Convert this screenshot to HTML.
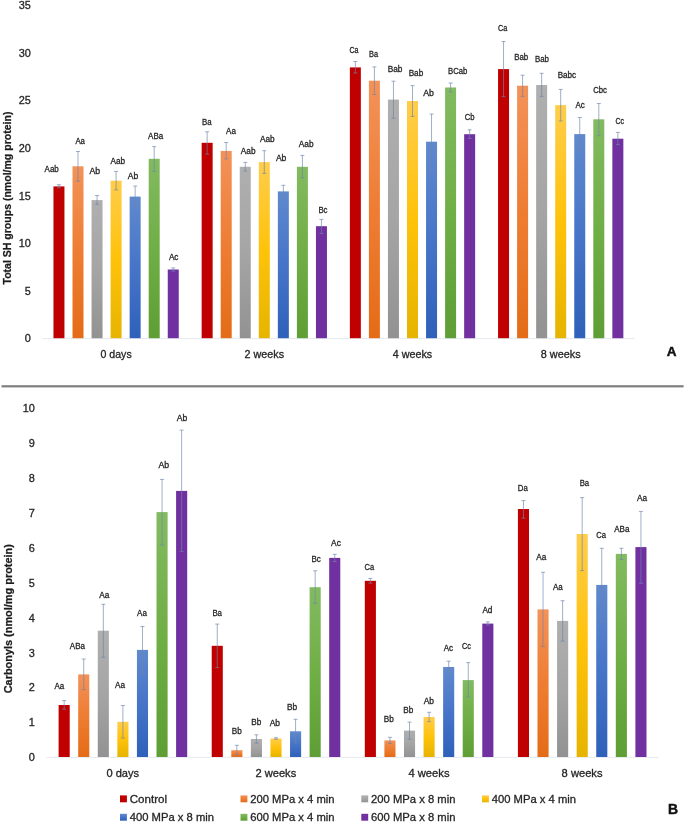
<!DOCTYPE html>
<html lang="en"><head><meta charset="utf-8"><title>Figure</title>
<style>html,body{margin:0;padding:0;background:#fff}svg{display:block}</style></head>
<body>
<svg width="685" height="823" viewBox="0 0 685 823" font-family='"Liberation Sans", sans-serif'>
<defs>
<linearGradient id="gO" x1="0" y1="0" x2="0" y2="1"><stop offset="0" stop-color="#F39259"/><stop offset="0.5" stop-color="#EE7D33"/><stop offset="1" stop-color="#E46C17"/></linearGradient>
<linearGradient id="gG" x1="0" y1="0" x2="0" y2="1"><stop offset="0" stop-color="#AFAFAF"/><stop offset="0.5" stop-color="#A5A5A5"/><stop offset="1" stop-color="#929292"/></linearGradient>
<linearGradient id="gY" x1="0" y1="0" x2="0" y2="1"><stop offset="0" stop-color="#FFCD4B"/><stop offset="0.5" stop-color="#FFC20A"/><stop offset="1" stop-color="#E6B400"/></linearGradient>
<linearGradient id="gB" x1="0" y1="0" x2="0" y2="1"><stop offset="0" stop-color="#6089CE"/><stop offset="0.5" stop-color="#4674C8"/><stop offset="1" stop-color="#2F61BA"/></linearGradient>
<linearGradient id="gN" x1="0" y1="0" x2="0" y2="1"><stop offset="0" stop-color="#82BB60"/><stop offset="0.5" stop-color="#70AE46"/><stop offset="1" stop-color="#5E9E34"/></linearGradient>
</defs>
<rect width="685" height="823" fill="#ffffff"/>
<line x1="42" y1="338.59999999999997" x2="634.8" y2="338.59999999999997" stroke="#DDE2EA" stroke-width="0.75"/>
<rect x="53.45" y="186.40" width="11.0" height="151.80" fill="#C00000"/>
<path d="M58.95 184.70V187.80M56.95 184.70h4M56.95 187.80h4" stroke="#6E86AA" stroke-width="0.85" fill="none" opacity="0.78"/>
<text x="44.60" y="171.70" font-size="8.6" font-weight="normal" fill="#262626" stroke="#262626" stroke-width="0.3" textLength="14.20" lengthAdjust="spacingAndGlyphs">Aab</text>
<rect x="72.50" y="166.30" width="11.0" height="171.90" fill="url(#gO)"/>
<path d="M78.00 151.50V181.20M76.00 151.50h4M76.00 181.20h4" stroke="#6E86AA" stroke-width="0.85" fill="none" opacity="0.78"/>
<text x="75.40" y="143.80" font-size="8.6" font-weight="normal" fill="#262626" stroke="#262626" stroke-width="0.3" textLength="9.60" lengthAdjust="spacingAndGlyphs">Aa</text>
<rect x="91.55" y="200.10" width="11.0" height="138.10" fill="url(#gG)"/>
<path d="M97.05 195.50V204.30M95.05 195.50h4M95.05 204.30h4" stroke="#6E86AA" stroke-width="0.85" fill="none" opacity="0.78"/>
<text x="89.40" y="174.00" font-size="8.6" font-weight="normal" fill="#262626" stroke="#262626" stroke-width="0.3" textLength="10.70" lengthAdjust="spacingAndGlyphs">Ab</text>
<rect x="110.60" y="180.70" width="11.0" height="157.50" fill="url(#gY)"/>
<path d="M116.10 171.40V189.90M114.10 171.40h4M114.10 189.90h4" stroke="#6E86AA" stroke-width="0.85" fill="none" opacity="0.78"/>
<text x="110.50" y="163.70" font-size="8.6" font-weight="normal" fill="#262626" stroke="#262626" stroke-width="0.3" textLength="14.60" lengthAdjust="spacingAndGlyphs">Aab</text>
<rect x="129.65" y="196.60" width="11.0" height="141.60" fill="url(#gB)"/>
<path d="M135.15 186.10V207.60M133.15 186.10h4M133.15 207.60h4" stroke="#6E86AA" stroke-width="0.85" fill="none" opacity="0.78"/>
<text x="127.80" y="179.10" font-size="8.6" font-weight="normal" fill="#262626" stroke="#262626" stroke-width="0.3" textLength="10.40" lengthAdjust="spacingAndGlyphs">Ab</text>
<rect x="148.70" y="158.80" width="11.0" height="179.40" fill="url(#gN)"/>
<path d="M154.20 146.60V171.40M152.20 146.60h4M152.20 171.40h4" stroke="#6E86AA" stroke-width="0.85" fill="none" opacity="0.78"/>
<text x="148.10" y="139.40" font-size="8.6" font-weight="normal" fill="#262626" stroke="#262626" stroke-width="0.3" textLength="15.10" lengthAdjust="spacingAndGlyphs">ABa</text>
<rect x="167.75" y="269.50" width="11.0" height="68.70" fill="#7030A0"/>
<path d="M173.25 267.90V271.20M171.25 267.90h4M171.25 271.20h4" stroke="#6E86AA" stroke-width="0.85" fill="none" opacity="0.78"/>
<text x="168.90" y="260.00" font-size="8.6" font-weight="normal" fill="#262626" stroke="#262626" stroke-width="0.3" textLength="9.50" lengthAdjust="spacingAndGlyphs">Ac</text>
<rect x="201.65" y="142.80" width="11.0" height="195.40" fill="#C00000"/>
<path d="M207.15 131.80V154.20M205.15 131.80h4M205.15 154.20h4" stroke="#6E86AA" stroke-width="0.85" fill="none" opacity="0.78"/>
<text x="202.00" y="124.60" font-size="8.6" font-weight="normal" fill="#262626" stroke="#262626" stroke-width="0.3" textLength="9.60" lengthAdjust="spacingAndGlyphs">Ba</text>
<rect x="220.70" y="150.90" width="11.0" height="187.30" fill="url(#gO)"/>
<path d="M226.20 142.50V158.90M224.20 142.50h4M224.20 158.90h4" stroke="#6E86AA" stroke-width="0.85" fill="none" opacity="0.78"/>
<text x="226.10" y="134.10" font-size="8.6" font-weight="normal" fill="#262626" stroke="#262626" stroke-width="0.3" textLength="9.80" lengthAdjust="spacingAndGlyphs">Aa</text>
<rect x="239.75" y="166.80" width="11.0" height="171.40" fill="url(#gG)"/>
<path d="M245.25 162.40V171.00M243.25 162.40h4M243.25 171.00h4" stroke="#6E86AA" stroke-width="0.85" fill="none" opacity="0.78"/>
<text x="240.80" y="153.50" font-size="8.6" font-weight="normal" fill="#262626" stroke="#262626" stroke-width="0.3" textLength="14.70" lengthAdjust="spacingAndGlyphs">Aab</text>
<rect x="258.80" y="162.10" width="11.0" height="176.10" fill="url(#gY)"/>
<path d="M264.30 150.70V173.40M262.30 150.70h4M262.30 173.40h4" stroke="#6E86AA" stroke-width="0.85" fill="none" opacity="0.78"/>
<text x="260.00" y="141.80" font-size="8.6" font-weight="normal" fill="#262626" stroke="#262626" stroke-width="0.3" textLength="14.70" lengthAdjust="spacingAndGlyphs">Aab</text>
<rect x="277.85" y="191.40" width="11.0" height="146.80" fill="url(#gB)"/>
<path d="M283.35 185.30V197.40M281.35 185.30h4M281.35 197.40h4" stroke="#6E86AA" stroke-width="0.85" fill="none" opacity="0.78"/>
<text x="275.90" y="161.00" font-size="8.6" font-weight="normal" fill="#262626" stroke="#262626" stroke-width="0.3" textLength="10.50" lengthAdjust="spacingAndGlyphs">Ab</text>
<rect x="296.90" y="166.80" width="11.0" height="171.40" fill="url(#gN)"/>
<path d="M302.40 155.40V177.80M300.40 155.40h4M300.40 177.80h4" stroke="#6E86AA" stroke-width="0.85" fill="none" opacity="0.78"/>
<text x="298.80" y="147.20" font-size="8.6" font-weight="normal" fill="#262626" stroke="#262626" stroke-width="0.3" textLength="14.70" lengthAdjust="spacingAndGlyphs">Aab</text>
<rect x="315.95" y="226.20" width="11.0" height="112.00" fill="#7030A0"/>
<path d="M321.45 219.40V233.40M319.45 219.40h4M319.45 233.40h4" stroke="#6E86AA" stroke-width="0.85" fill="none" opacity="0.78"/>
<text x="318.40" y="212.90" font-size="8.6" font-weight="normal" fill="#262626" stroke="#262626" stroke-width="0.3" textLength="9.10" lengthAdjust="spacingAndGlyphs">Bc</text>
<rect x="349.85" y="67.40" width="11.0" height="270.80" fill="#C00000"/>
<path d="M355.35 61.50V73.00M353.35 61.50h4M353.35 73.00h4" stroke="#6E86AA" stroke-width="0.85" fill="none" opacity="0.78"/>
<text x="349.40" y="52.50" font-size="8.6" font-weight="normal" fill="#262626" stroke="#262626" stroke-width="0.3" textLength="9.10" lengthAdjust="spacingAndGlyphs">Ca</text>
<rect x="368.90" y="80.70" width="11.0" height="257.50" fill="url(#gO)"/>
<path d="M374.40 66.90V94.50M372.40 66.90h4M372.40 94.50h4" stroke="#6E86AA" stroke-width="0.85" fill="none" opacity="0.78"/>
<text x="369.00" y="57.10" font-size="8.6" font-weight="normal" fill="#262626" stroke="#262626" stroke-width="0.3" textLength="9.10" lengthAdjust="spacingAndGlyphs">Ba</text>
<rect x="387.95" y="99.60" width="11.0" height="238.60" fill="url(#gG)"/>
<path d="M393.45 81.20V118.30M391.45 81.20h4M391.45 118.30h4" stroke="#6E86AA" stroke-width="0.85" fill="none" opacity="0.78"/>
<text x="387.70" y="71.80" font-size="8.6" font-weight="normal" fill="#262626" stroke="#262626" stroke-width="0.3" textLength="14.70" lengthAdjust="spacingAndGlyphs">Bab</text>
<rect x="407.00" y="101.00" width="11.0" height="237.20" fill="url(#gY)"/>
<path d="M412.50 85.60V116.40M410.50 85.60h4M410.50 116.40h4" stroke="#6E86AA" stroke-width="0.85" fill="none" opacity="0.78"/>
<text x="408.70" y="76.30" font-size="8.6" font-weight="normal" fill="#262626" stroke="#262626" stroke-width="0.3" textLength="14.50" lengthAdjust="spacingAndGlyphs">Bab</text>
<rect x="426.05" y="141.70" width="11.0" height="196.50" fill="url(#gB)"/>
<path d="M431.55 114.10V169.00M429.55 114.10h4M429.55 169.00h4" stroke="#6E86AA" stroke-width="0.85" fill="none" opacity="0.78"/>
<text x="423.20" y="96.20" font-size="8.6" font-weight="normal" fill="#262626" stroke="#262626" stroke-width="0.3" textLength="10.70" lengthAdjust="spacingAndGlyphs">Ab</text>
<rect x="445.10" y="87.50" width="11.0" height="250.70" fill="url(#gN)"/>
<path d="M450.60 83.00V91.90M448.60 83.00h4M448.60 91.90h4" stroke="#6E86AA" stroke-width="0.85" fill="none" opacity="0.78"/>
<text x="448.00" y="73.70" font-size="8.6" font-weight="normal" fill="#262626" stroke="#262626" stroke-width="0.3" textLength="19.30" lengthAdjust="spacingAndGlyphs">BCab</text>
<rect x="464.15" y="134.20" width="11.0" height="204.00" fill="#7030A0"/>
<path d="M469.65 129.80V138.40M467.65 129.80h4M467.65 138.40h4" stroke="#6E86AA" stroke-width="0.85" fill="none" opacity="0.78"/>
<text x="464.80" y="120.20" font-size="8.6" font-weight="normal" fill="#262626" stroke="#262626" stroke-width="0.3" textLength="9.80" lengthAdjust="spacingAndGlyphs">Cb</text>
<rect x="498.05" y="69.10" width="11.0" height="269.10" fill="#C00000"/>
<path d="M503.55 41.50V96.70M501.55 41.50h4M501.55 96.70h4" stroke="#6E86AA" stroke-width="0.85" fill="none" opacity="0.78"/>
<text x="497.90" y="31.30" font-size="8.6" font-weight="normal" fill="#262626" stroke="#262626" stroke-width="0.3" textLength="9.30" lengthAdjust="spacingAndGlyphs">Ca</text>
<rect x="517.10" y="85.70" width="11.0" height="252.50" fill="url(#gO)"/>
<path d="M522.60 75.20V96.40M520.60 75.20h4M520.60 96.40h4" stroke="#6E86AA" stroke-width="0.85" fill="none" opacity="0.78"/>
<text x="514.20" y="59.80" font-size="8.6" font-weight="normal" fill="#262626" stroke="#262626" stroke-width="0.3" textLength="14.00" lengthAdjust="spacingAndGlyphs">Bab</text>
<rect x="536.15" y="85.00" width="11.0" height="253.20" fill="url(#gG)"/>
<path d="M541.65 73.30V96.40M539.65 73.30h4M539.65 96.40h4" stroke="#6E86AA" stroke-width="0.85" fill="none" opacity="0.78"/>
<text x="535.00" y="62.10" font-size="8.6" font-weight="normal" fill="#262626" stroke="#262626" stroke-width="0.3" textLength="14.00" lengthAdjust="spacingAndGlyphs">Bab</text>
<rect x="555.20" y="105.10" width="11.0" height="233.10" fill="url(#gY)"/>
<path d="M560.70 89.40V121.00M558.70 89.40h4M558.70 121.00h4" stroke="#6E86AA" stroke-width="0.85" fill="none" opacity="0.78"/>
<text x="557.70" y="78.30" font-size="8.6" font-weight="normal" fill="#262626" stroke="#262626" stroke-width="0.3" textLength="18.40" lengthAdjust="spacingAndGlyphs">Babc</text>
<rect x="574.25" y="134.10" width="11.0" height="204.10" fill="url(#gB)"/>
<path d="M579.75 117.50V150.70M577.75 117.50h4M577.75 150.70h4" stroke="#6E86AA" stroke-width="0.85" fill="none" opacity="0.78"/>
<text x="575.40" y="108.20" font-size="8.6" font-weight="normal" fill="#262626" stroke="#262626" stroke-width="0.3" textLength="9.30" lengthAdjust="spacingAndGlyphs">Ac</text>
<rect x="593.30" y="119.30" width="11.0" height="218.90" fill="url(#gN)"/>
<path d="M598.80 103.50V135.70M596.80 103.50h4M596.80 135.70h4" stroke="#6E86AA" stroke-width="0.85" fill="none" opacity="0.78"/>
<text x="593.20" y="93.00" font-size="8.6" font-weight="normal" fill="#262626" stroke="#262626" stroke-width="0.3" textLength="13.70" lengthAdjust="spacingAndGlyphs">Cbc</text>
<rect x="612.35" y="138.70" width="11.0" height="199.50" fill="#7030A0"/>
<path d="M617.85 132.40V144.60M615.85 132.40h4M615.85 144.60h4" stroke="#6E86AA" stroke-width="0.85" fill="none" opacity="0.78"/>
<text x="615.40" y="123.60" font-size="8.6" font-weight="normal" fill="#262626" stroke="#262626" stroke-width="0.3" textLength="8.60" lengthAdjust="spacingAndGlyphs">Cc</text>
<line x1="46.35" y1="757.4" x2="658.75" y2="757.4" stroke="#DDE2EA" stroke-width="0.75"/>
<rect x="58.61" y="705.00" width="11.1" height="52.00" fill="#C00000"/>
<path d="M64.16 700.60V709.20M62.16 700.60h4M62.16 709.20h4" stroke="#6E86AA" stroke-width="0.85" fill="none" opacity="0.78"/>
<text x="54.40" y="689.40" font-size="8.6" font-weight="normal" fill="#262626" stroke="#262626" stroke-width="0.3" textLength="9.80" lengthAdjust="spacingAndGlyphs">Aa</text>
<rect x="78.19" y="674.40" width="11.1" height="82.60" fill="url(#gO)"/>
<path d="M83.74 659.00V689.60M81.74 659.00h4M81.74 689.60h4" stroke="#6E86AA" stroke-width="0.85" fill="none" opacity="0.78"/>
<text x="69.80" y="649.00" font-size="8.6" font-weight="normal" fill="#262626" stroke="#262626" stroke-width="0.3" textLength="15.20" lengthAdjust="spacingAndGlyphs">ABa</text>
<rect x="97.77" y="630.70" width="11.1" height="126.30" fill="url(#gG)"/>
<path d="M103.32 604.30V657.30M101.32 604.30h4M101.32 657.30h4" stroke="#6E86AA" stroke-width="0.85" fill="none" opacity="0.78"/>
<text x="99.20" y="597.60" font-size="8.6" font-weight="normal" fill="#262626" stroke="#262626" stroke-width="0.3" textLength="10.10" lengthAdjust="spacingAndGlyphs">Aa</text>
<rect x="117.35" y="721.80" width="11.1" height="35.20" fill="url(#gY)"/>
<path d="M122.90 705.50V738.10M120.90 705.50h4M120.90 738.10h4" stroke="#6E86AA" stroke-width="0.85" fill="none" opacity="0.78"/>
<text x="115.10" y="688.00" font-size="8.6" font-weight="normal" fill="#262626" stroke="#262626" stroke-width="0.3" textLength="10.00" lengthAdjust="spacingAndGlyphs">Aa</text>
<rect x="136.93" y="649.90" width="11.1" height="107.10" fill="url(#gB)"/>
<path d="M142.48 626.50V673.70M140.48 626.50h4M140.48 673.70h4" stroke="#6E86AA" stroke-width="0.85" fill="none" opacity="0.78"/>
<text x="137.10" y="616.00" font-size="8.6" font-weight="normal" fill="#262626" stroke="#262626" stroke-width="0.3" textLength="9.80" lengthAdjust="spacingAndGlyphs">Aa</text>
<rect x="156.51" y="512.10" width="11.1" height="244.90" fill="url(#gN)"/>
<path d="M162.06 479.40V544.90M160.06 479.40h4M160.06 544.90h4" stroke="#6E86AA" stroke-width="0.85" fill="none" opacity="0.78"/>
<text x="158.40" y="468.30" font-size="8.6" font-weight="normal" fill="#262626" stroke="#262626" stroke-width="0.3" textLength="10.70" lengthAdjust="spacingAndGlyphs">Ab</text>
<rect x="176.09" y="490.90" width="11.1" height="266.10" fill="#7030A0"/>
<path d="M181.64 430.10V551.40M179.64 430.10h4M179.64 551.40h4" stroke="#6E86AA" stroke-width="0.85" fill="none" opacity="0.78"/>
<text x="176.80" y="420.60" font-size="8.6" font-weight="normal" fill="#262626" stroke="#262626" stroke-width="0.3" textLength="10.50" lengthAdjust="spacingAndGlyphs">Ab</text>
<rect x="211.71" y="645.80" width="11.1" height="111.20" fill="#C00000"/>
<path d="M217.26 624.10V667.60M215.26 624.10h4M215.26 667.60h4" stroke="#6E86AA" stroke-width="0.85" fill="none" opacity="0.78"/>
<text x="212.40" y="615.50" font-size="8.6" font-weight="normal" fill="#262626" stroke="#262626" stroke-width="0.3" textLength="9.60" lengthAdjust="spacingAndGlyphs">Ba</text>
<rect x="231.29" y="750.20" width="11.1" height="6.80" fill="url(#gO)"/>
<path d="M236.84 745.30V754.60M234.84 745.30h4M234.84 754.60h4" stroke="#6E86AA" stroke-width="0.85" fill="none" opacity="0.78"/>
<text x="231.80" y="733.60" font-size="8.6" font-weight="normal" fill="#262626" stroke="#262626" stroke-width="0.3" textLength="10.00" lengthAdjust="spacingAndGlyphs">Bb</text>
<rect x="250.87" y="739.00" width="11.1" height="18.00" fill="url(#gG)"/>
<path d="M256.42 734.80V743.20M254.42 734.80h4M254.42 743.20h4" stroke="#6E86AA" stroke-width="0.85" fill="none" opacity="0.78"/>
<text x="251.20" y="725.20" font-size="8.6" font-weight="normal" fill="#262626" stroke="#262626" stroke-width="0.3" textLength="10.00" lengthAdjust="spacingAndGlyphs">Bb</text>
<rect x="270.45" y="738.50" width="11.1" height="18.50" fill="url(#gY)"/>
<path d="M276.00 737.80V739.20M274.00 737.80h4M274.00 739.20h4" stroke="#6E86AA" stroke-width="0.85" fill="none" opacity="0.78"/>
<text x="269.70" y="726.20" font-size="8.6" font-weight="normal" fill="#262626" stroke="#262626" stroke-width="0.3" textLength="10.40" lengthAdjust="spacingAndGlyphs">Ab</text>
<rect x="290.03" y="731.30" width="11.1" height="25.70" fill="url(#gB)"/>
<path d="M295.58 719.30V742.90M293.58 719.30h4M293.58 742.90h4" stroke="#6E86AA" stroke-width="0.85" fill="none" opacity="0.78"/>
<text x="287.00" y="709.60" font-size="8.6" font-weight="normal" fill="#262626" stroke="#262626" stroke-width="0.3" textLength="10.20" lengthAdjust="spacingAndGlyphs">Bb</text>
<rect x="309.61" y="587.20" width="11.1" height="169.80" fill="url(#gN)"/>
<path d="M315.16 570.80V603.30M313.16 570.80h4M313.16 603.30h4" stroke="#6E86AA" stroke-width="0.85" fill="none" opacity="0.78"/>
<text x="311.50" y="561.90" font-size="8.6" font-weight="normal" fill="#262626" stroke="#262626" stroke-width="0.3" textLength="9.30" lengthAdjust="spacingAndGlyphs">Bc</text>
<rect x="329.19" y="557.90" width="11.1" height="199.10" fill="#7030A0"/>
<path d="M334.74 554.30V561.50M332.74 554.30h4M332.74 561.50h4" stroke="#6E86AA" stroke-width="0.85" fill="none" opacity="0.78"/>
<text x="331.10" y="545.70" font-size="8.6" font-weight="normal" fill="#262626" stroke="#262626" stroke-width="0.3" textLength="9.80" lengthAdjust="spacingAndGlyphs">Ac</text>
<rect x="364.81" y="580.80" width="11.1" height="176.20" fill="#C00000"/>
<path d="M370.36 578.50V583.10M368.36 578.50h4M368.36 583.10h4" stroke="#6E86AA" stroke-width="0.85" fill="none" opacity="0.78"/>
<text x="364.60" y="569.60" font-size="8.6" font-weight="normal" fill="#262626" stroke="#262626" stroke-width="0.3" textLength="9.60" lengthAdjust="spacingAndGlyphs">Ca</text>
<rect x="384.39" y="740.40" width="11.1" height="16.60" fill="url(#gO)"/>
<path d="M389.94 737.30V743.40M387.94 737.30h4M387.94 743.40h4" stroke="#6E86AA" stroke-width="0.85" fill="none" opacity="0.78"/>
<text x="383.80" y="722.40" font-size="8.6" font-weight="normal" fill="#262626" stroke="#262626" stroke-width="0.3" textLength="10.00" lengthAdjust="spacingAndGlyphs">Bb</text>
<rect x="403.97" y="730.60" width="11.1" height="26.40" fill="url(#gG)"/>
<path d="M409.52 722.10V739.20M407.52 722.10h4M407.52 739.20h4" stroke="#6E86AA" stroke-width="0.85" fill="none" opacity="0.78"/>
<text x="403.20" y="712.60" font-size="8.6" font-weight="normal" fill="#262626" stroke="#262626" stroke-width="0.3" textLength="10.00" lengthAdjust="spacingAndGlyphs">Bb</text>
<rect x="423.55" y="717.00" width="11.1" height="40.00" fill="url(#gY)"/>
<path d="M429.10 712.30V721.70M427.10 712.30h4M427.10 721.70h4" stroke="#6E86AA" stroke-width="0.85" fill="none" opacity="0.78"/>
<text x="423.70" y="704.20" font-size="8.6" font-weight="normal" fill="#262626" stroke="#262626" stroke-width="0.3" textLength="10.30" lengthAdjust="spacingAndGlyphs">Ab</text>
<rect x="443.13" y="667.00" width="11.1" height="90.00" fill="url(#gB)"/>
<path d="M448.68 661.20V672.60M446.68 661.20h4M446.68 672.60h4" stroke="#6E86AA" stroke-width="0.85" fill="none" opacity="0.78"/>
<text x="443.80" y="650.50" font-size="8.6" font-weight="normal" fill="#262626" stroke="#262626" stroke-width="0.3" textLength="9.30" lengthAdjust="spacingAndGlyphs">Ac</text>
<rect x="462.71" y="680.10" width="11.1" height="76.90" fill="url(#gN)"/>
<path d="M468.26 662.60V696.90M466.26 662.60h4M466.26 696.90h4" stroke="#6E86AA" stroke-width="0.85" fill="none" opacity="0.78"/>
<text x="462.00" y="648.60" font-size="8.6" font-weight="normal" fill="#262626" stroke="#262626" stroke-width="0.3" textLength="8.90" lengthAdjust="spacingAndGlyphs">Cc</text>
<rect x="482.29" y="623.60" width="11.1" height="133.40" fill="#7030A0"/>
<path d="M487.84 621.90V625.00M485.84 621.90h4M485.84 625.00h4" stroke="#6E86AA" stroke-width="0.85" fill="none" opacity="0.78"/>
<text x="482.40" y="613.10" font-size="8.6" font-weight="normal" fill="#262626" stroke="#262626" stroke-width="0.3" textLength="10.00" lengthAdjust="spacingAndGlyphs">Ad</text>
<rect x="517.91" y="509.00" width="11.1" height="248.00" fill="#C00000"/>
<path d="M523.46 500.60V518.10M521.46 500.60h4M521.46 518.10h4" stroke="#6E86AA" stroke-width="0.85" fill="none" opacity="0.78"/>
<text x="517.80" y="490.60" font-size="8.6" font-weight="normal" fill="#262626" stroke="#262626" stroke-width="0.3" textLength="10.00" lengthAdjust="spacingAndGlyphs">Da</text>
<rect x="537.49" y="609.40" width="11.1" height="147.60" fill="url(#gO)"/>
<path d="M543.04 572.30V646.40M541.04 572.30h4M541.04 646.40h4" stroke="#6E86AA" stroke-width="0.85" fill="none" opacity="0.78"/>
<text x="536.20" y="559.50" font-size="8.6" font-weight="normal" fill="#262626" stroke="#262626" stroke-width="0.3" textLength="10.00" lengthAdjust="spacingAndGlyphs">Aa</text>
<rect x="557.07" y="620.90" width="11.1" height="136.10" fill="url(#gG)"/>
<path d="M562.62 600.70V641.10M560.62 600.70h4M560.62 641.10h4" stroke="#6E86AA" stroke-width="0.85" fill="none" opacity="0.78"/>
<text x="553.00" y="589.70" font-size="8.6" font-weight="normal" fill="#262626" stroke="#262626" stroke-width="0.3" textLength="9.80" lengthAdjust="spacingAndGlyphs">Aa</text>
<rect x="576.65" y="534.00" width="11.1" height="223.00" fill="url(#gY)"/>
<path d="M582.20 497.60V570.60M580.20 497.60h4M580.20 570.60h4" stroke="#6E86AA" stroke-width="0.85" fill="none" opacity="0.78"/>
<text x="579.70" y="485.90" font-size="8.6" font-weight="normal" fill="#262626" stroke="#262626" stroke-width="0.3" textLength="9.50" lengthAdjust="spacingAndGlyphs">Ba</text>
<rect x="596.23" y="584.90" width="11.1" height="172.10" fill="url(#gB)"/>
<path d="M601.78 548.30V621.50M599.78 548.30h4M599.78 621.50h4" stroke="#6E86AA" stroke-width="0.85" fill="none" opacity="0.78"/>
<text x="596.30" y="538.30" font-size="8.6" font-weight="normal" fill="#262626" stroke="#262626" stroke-width="0.3" textLength="9.70" lengthAdjust="spacingAndGlyphs">Ca</text>
<rect x="615.81" y="553.90" width="11.1" height="203.10" fill="url(#gN)"/>
<path d="M621.36 548.30V559.50M619.36 548.30h4M619.36 559.50h4" stroke="#6E86AA" stroke-width="0.85" fill="none" opacity="0.78"/>
<text x="614.20" y="532.40" font-size="8.6" font-weight="normal" fill="#262626" stroke="#262626" stroke-width="0.3" textLength="15.20" lengthAdjust="spacingAndGlyphs">ABa</text>
<rect x="635.39" y="547.10" width="11.1" height="209.90" fill="#7030A0"/>
<path d="M640.94 511.40V583.30M638.94 511.40h4M638.94 583.30h4" stroke="#6E86AA" stroke-width="0.85" fill="none" opacity="0.78"/>
<text x="637.10" y="501.10" font-size="8.6" font-weight="normal" fill="#262626" stroke="#262626" stroke-width="0.3" textLength="10.10" lengthAdjust="spacingAndGlyphs">Aa</text>
<text x="30.9" y="342.20" font-size="10.9" text-anchor="end" fill="#262626" stroke="#262626" stroke-width="0.3">0</text>
<text x="30.9" y="294.65" font-size="10.9" text-anchor="end" fill="#262626" stroke="#262626" stroke-width="0.3">5</text>
<text x="30.9" y="247.10" font-size="10.9" text-anchor="end" fill="#262626" stroke="#262626" stroke-width="0.3">10</text>
<text x="30.9" y="199.55" font-size="10.9" text-anchor="end" fill="#262626" stroke="#262626" stroke-width="0.3">15</text>
<text x="30.9" y="152.00" font-size="10.9" text-anchor="end" fill="#262626" stroke="#262626" stroke-width="0.3">20</text>
<text x="30.9" y="104.45" font-size="10.9" text-anchor="end" fill="#262626" stroke="#262626" stroke-width="0.3">25</text>
<text x="30.9" y="56.90" font-size="10.9" text-anchor="end" fill="#262626" stroke="#262626" stroke-width="0.3">30</text>
<text x="30.9" y="9.35" font-size="10.9" text-anchor="end" fill="#262626" stroke="#262626" stroke-width="0.3">35</text>
<text x="34.8" y="761.20" font-size="10.9" text-anchor="end" fill="#262626" stroke="#262626" stroke-width="0.3">0</text>
<text x="34.8" y="726.30" font-size="10.9" text-anchor="end" fill="#262626" stroke="#262626" stroke-width="0.3">1</text>
<text x="34.8" y="691.40" font-size="10.9" text-anchor="end" fill="#262626" stroke="#262626" stroke-width="0.3">2</text>
<text x="34.8" y="656.50" font-size="10.9" text-anchor="end" fill="#262626" stroke="#262626" stroke-width="0.3">3</text>
<text x="34.8" y="621.60" font-size="10.9" text-anchor="end" fill="#262626" stroke="#262626" stroke-width="0.3">4</text>
<text x="34.8" y="586.70" font-size="10.9" text-anchor="end" fill="#262626" stroke="#262626" stroke-width="0.3">5</text>
<text x="34.8" y="551.80" font-size="10.9" text-anchor="end" fill="#262626" stroke="#262626" stroke-width="0.3">6</text>
<text x="34.8" y="516.90" font-size="10.9" text-anchor="end" fill="#262626" stroke="#262626" stroke-width="0.3">7</text>
<text x="34.8" y="482.00" font-size="10.9" text-anchor="end" fill="#262626" stroke="#262626" stroke-width="0.3">8</text>
<text x="34.8" y="447.10" font-size="10.9" text-anchor="end" fill="#262626" stroke="#262626" stroke-width="0.3">9</text>
<text x="34.8" y="412.20" font-size="10.9" text-anchor="end" fill="#262626" stroke="#262626" stroke-width="0.3">10</text>
<text x="100.50" y="358.10" font-size="10.9" font-weight="normal" fill="#262626" stroke="#262626" stroke-width="0.3" textLength="31.20" lengthAdjust="spacingAndGlyphs">0 days</text>
<text x="106.40" y="776.90" font-size="11.118" font-weight="normal" fill="#262626" stroke="#262626" stroke-width="0.3" textLength="32.70" lengthAdjust="spacingAndGlyphs">0 days</text>
<text x="244.55" y="358.10" font-size="10.9" font-weight="normal" fill="#262626" stroke="#262626" stroke-width="0.3" textLength="39.50" lengthAdjust="spacingAndGlyphs">2 weeks</text>
<text x="255.45" y="776.90" font-size="11.118" font-weight="normal" fill="#262626" stroke="#262626" stroke-width="0.3" textLength="40.80" lengthAdjust="spacingAndGlyphs">2 weeks</text>
<text x="392.75" y="358.10" font-size="10.9" font-weight="normal" fill="#262626" stroke="#262626" stroke-width="0.3" textLength="39.50" lengthAdjust="spacingAndGlyphs">4 weeks</text>
<text x="408.40" y="776.90" font-size="11.118" font-weight="normal" fill="#262626" stroke="#262626" stroke-width="0.3" textLength="41.10" lengthAdjust="spacingAndGlyphs">4 weeks</text>
<text x="540.80" y="358.10" font-size="10.9" font-weight="normal" fill="#262626" stroke="#262626" stroke-width="0.3" textLength="39.80" lengthAdjust="spacingAndGlyphs">8 weeks</text>
<text x="561.60" y="776.90" font-size="11.118" font-weight="normal" fill="#262626" stroke="#262626" stroke-width="0.3" textLength="40.90" lengthAdjust="spacingAndGlyphs">8 weeks</text>
<text transform="translate(10.5,284.5) rotate(-90)" x="0" y="0" font-size="10.9" font-weight="bold" fill="#1c1c1c" stroke="#1c1c1c" stroke-width="0.25" textLength="172.90" lengthAdjust="spacingAndGlyphs">Total SH groups (nmol/mg protein)</text>
<text transform="translate(11.6,693.3) rotate(-90)" x="0" y="0" font-size="11.0" font-weight="bold" fill="#1c1c1c" stroke="#1c1c1c" stroke-width="0.25" textLength="149.20" lengthAdjust="spacingAndGlyphs">Carbonyls (nmol/mg protein)</text>
<rect x="1.5" y="385.2" width="682.1" height="2.2" fill="#7F7F7F"/>
<text x="666.8" y="355.5" font-size="13.5" font-weight="bold" fill="#111" stroke="#111" stroke-width="0.45">A</text>
<text x="668.1" y="813.9" font-size="13.9" font-weight="bold" fill="#111" stroke="#111" stroke-width="0.45">B</text>
<rect x="120" y="795.40" width="6.9" height="6.9" fill="#C00000"/>
<text x="129.70" y="802.70" font-size="11.118" font-weight="normal" fill="#262626" stroke="#262626" stroke-width="0.3" textLength="37.40" lengthAdjust="spacingAndGlyphs">Control</text>
<rect x="240.5" y="795.40" width="6.9" height="6.9" fill="url(#gO)"/>
<text x="250.20" y="802.70" font-size="11.118" font-weight="normal" fill="#262626" stroke="#262626" stroke-width="0.3" textLength="84.30" lengthAdjust="spacingAndGlyphs">200 MPa x 4 min</text>
<rect x="361.3" y="795.40" width="6.9" height="6.9" fill="url(#gG)"/>
<text x="371.00" y="802.70" font-size="11.118" font-weight="normal" fill="#262626" stroke="#262626" stroke-width="0.3" textLength="84.50" lengthAdjust="spacingAndGlyphs">200 MPa x 8 min</text>
<rect x="482" y="795.40" width="6.9" height="6.9" fill="url(#gY)"/>
<text x="491.70" y="802.70" font-size="11.118" font-weight="normal" fill="#262626" stroke="#262626" stroke-width="0.3" textLength="84.30" lengthAdjust="spacingAndGlyphs">400 MPa x 4 min</text>
<rect x="120" y="813.80" width="6.9" height="6.9" fill="url(#gB)"/>
<text x="129.70" y="821.10" font-size="11.118" font-weight="normal" fill="#262626" stroke="#262626" stroke-width="0.3" textLength="84.30" lengthAdjust="spacingAndGlyphs">400 MPa x 8 min</text>
<rect x="240.5" y="813.80" width="6.9" height="6.9" fill="url(#gN)"/>
<text x="250.20" y="821.10" font-size="11.118" font-weight="normal" fill="#262626" stroke="#262626" stroke-width="0.3" textLength="84.30" lengthAdjust="spacingAndGlyphs">600 MPa x 4 min</text>
<rect x="361.3" y="813.80" width="6.9" height="6.9" fill="#7030A0"/>
<text x="371.00" y="821.10" font-size="11.118" font-weight="normal" fill="#262626" stroke="#262626" stroke-width="0.3" textLength="84.50" lengthAdjust="spacingAndGlyphs">600 MPa x 8 min</text>
</svg>
</body></html>
